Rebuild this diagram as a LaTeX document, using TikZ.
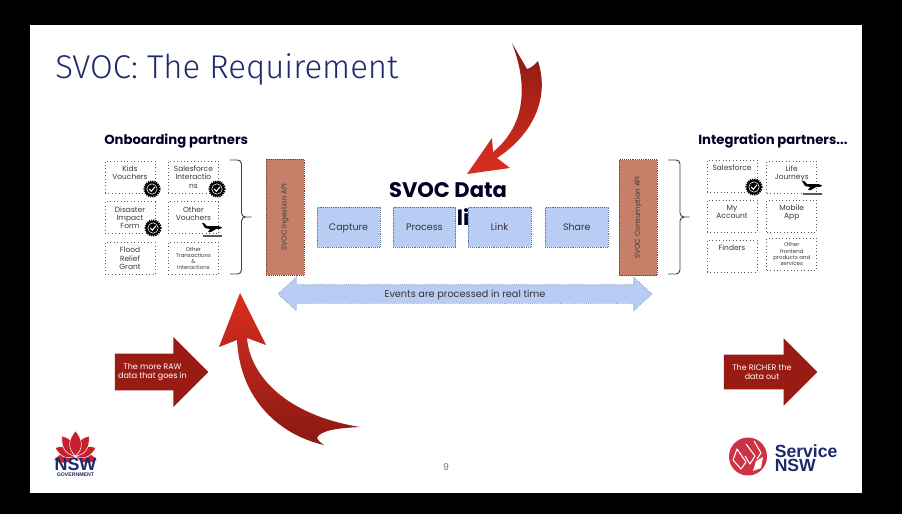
\documentclass[tikz,border=0pt]{standalone}
\usepackage{fontspec}
\setmainfont{Poppins}
\newfontfamily\titlefont{Fira Sans Light}
\newfontfamily\logofont{Liberation Sans}
\usetikzlibrary{positioning,calc,arrows.meta,shapes.arrows}
\definecolor{navy}{HTML}{1D2A6B}
\definecolor{ink}{HTML}{3A3A3A}
\definecolor{bluefill}{HTML}{B8CCF4}
\definecolor{blueedge}{HTML}{5F6F8E}
\definecolor{apifill}{HTML}{C6806A}
\definecolor{apiedge}{HTML}{7A3B2C}
\definecolor{darkred}{HTML}{981C14}
\definecolor{brightred}{HTML}{DA2F1F}
\definecolor{nswred}{HTML}{C8202F}
\definecolor{svcred}{HTML}{CE3345}
\newcommand{\boxfont}{\fontsize{5.6}{6.2}\selectfont}
\newcommand{\tinyfont}{\fontsize{4.1}{4.6}\selectfont}
\tikzset{
  badge/.pic={\fill[black](0,0) circle (7.4); \draw[black,line width=1.3pt,dash pattern=on .9pt off .7pt](0,0) circle (7.7);
    \draw[white,line width=.4pt](0,0) circle (5.2); \draw[white,line width=.8pt](-2.8,0)--(-.7,2.2)--(3,-2.2);},
  jetmark/.pic={\fill[black](-10,-4)--(-8,-4)--(-5,-1)--(6,-1)..controls (9,-.5) and (10,.5)..(10,1)..controls (9,2) and (7,2)..(4,2)--(4,2)--(-1,5)--(-4,5)--(-2,2)--(-7,1)--cycle;
    \draw[black!65,line width=.8pt](-9,9)--(10,9);},
  petal/.pic={\fill[nswred,draw=white,line width=.4pt](0,0)..controls (-7,-6) and (-6,-14)..(0,-21)..controls (6,-14) and (7,-6)..(0,0)--cycle;}
}
\begin{document}
\begin{tikzpicture}[x=.75pt,y=-.75pt,
    pb/.style={draw=black!65,dotted,line width=.55pt,minimum width=37.5pt,minimum height=24pt,inner sep=0pt,align=center,font=\boxfont,text=ink},
    bb/.style={draw=blueedge,densely dotted,fill=bluefill,minimum width=47pt,minimum height=30pt,inner sep=0pt,text height=6pt,text depth=1pt,font=\fontsize{7.1}{8}\selectfont,text=ink!90!black},
    api/.style={draw=apiedge,densely dotted,fill=apifill,rotate=90,minimum width=87pt,minimum height=28.5pt,inner sep=0pt,font=\fontsize{5.3}{6}\selectfont,text=ink},
    ra/.style={single arrow,fill=darkred,text=white,align=center,minimum width=49.5pt,minimum height=70pt,single arrow head extend=12.4pt,single arrow tip angle=90,inner ysep=7pt,inner xsep=0pt,font=\fontsize{6}{7}\selectfont},
    hd/.style={font=\fontsize{9.9}{12}\selectfont\bfseries,text=black!85!blue},
    br/.style={draw=black!75,line width=.7pt,rounded corners=3pt}]
  \useasboundingbox (0,0) rectangle (902,514);
  \fill[black] (0,0) rectangle (902,514);
  \fill[white] (30,25) rectangle (862,493);
  \node[anchor=west,font=\titlefont\fontsize{24.7}{28}\selectfont,text=navy,inner sep=0pt] (title) at (55,69) {SVOC: The Requirement};
  \node[hd,anchor=west,inner sep=0pt] (onb) at (104,141.5) {Onboarding partners};
  \node[hd,anchor=west,inner sep=0pt] (integ) at (698,141.5) {Integration partners...};

  \node[pb] (kids) at (130,177) {Kids\\Vouchers\\~};
  \node[pb,right=9.5pt of kids] (sfint) {Salesforce\\Interactio\\ns};
  \node[pb,below=6pt of kids] (dis) {Disaster\\Impact\\Form};
  \node[pb,right=9.5pt of dis] (othv) {Other\\Vouchers\\~};
  \node[pb,below=6pt of dis] (flood) {Flood\\Relief\\Grant};
  \node[pb,right=9.5pt of flood,font=\tinyfont] (otht) {Other\\Transactions\\\&\\Interactions};
  \coordinate (bl) at (230,160);
  \draw[br] (bl) -- ++(11.5,0) -- ++(0,57) -- ++(12.5,0) -- ++(-12.5,0) -- ++(0,57) -- ++(-11.5,0);
  \pic at (152,189) {badge}; \pic at (217,189) {badge}; \pic at (153,228) {badge};
  \pic at (212,227) {jetmark};

  \node[api] (ingest) at (285,217) {SVOC Ingestion API};
  \node[api] (consume) at (638,217.5) {SVOC Consumption API};

  \node[align=center,font=\fontsize{15.8}{20.8}\selectfont\bfseries,text=black!85!blue,anchor=north] (svoc) at (448,178) {SVOC Data\\\hspace*{8pt}Pipeline};
  \node[bb] (cap) at (348.5,227) {Capture};
  \node[bb,right=9.5pt of cap] (proc) {Process};
  \node[bb,right=9pt of proc] (link) {Link};
  \node[bb,right=10.5pt of link] (share) {Share};

  \node[double arrow,draw=blueedge,densely dotted,fill=bluefill,minimum width=24.75pt,minimum height=280.5pt,double arrow head extend=5.6pt,double arrow tip angle=85,inner ysep=3pt,inner xsep=0pt,font=\fontsize{7.3}{8}\selectfont,text=ink!90!black,text height=6pt,text depth=1.5pt] (events) at (465,294) {Events are processed in real time};

  \coordinate (bk) at (668,160);
  \draw[br] (bk) -- ++(12,0) -- ++(0,57) -- ++(12,0) -- ++(-12,0) -- ++(0,57) -- ++(-12,0);
  \node[pb] (sfc) at (732,176) {Salesforce\\~\\~};
  \node[pb,right=6.75pt of sfc,yshift=-.75pt] (life) {Life\\Journeys\\~};
  \node[pb,below=5.5pt of sfc] (acct) {My\\Account\\~};
  \node[pb,right=6.75pt of acct] (mob) {Mobile\\App\\~};
  \node[pb,below=5.5pt of acct] (find) {Finders\\~\\~};
  \node[pb,right=6.75pt of find,yshift=1.5pt,font=\tinyfont] (othp) {Other\\frontend\\products and\\services};
  \pic at (754,187) {badge}; \pic at (812,185) {jetmark};

  \node[ra] (rawin) at (152.5,372) {The more RAW\\data that goes in};
  \node[ra] (richer) at (762,372) {The RICHER the\\data out};

  \shade[top color=darkred!90!black,bottom color=brightred] (512,43)..controls (528,85) and (526,125)..(493,152)--(492,138)--(467,174)--(510,168)--(497,158)..controls (525,140) and (552,105)..(538,61)..controls (534,66) and (530,68)..(527,69)..controls (523,62) and (517,52)..(512,43)--cycle;
  \shade[top color=brightred,bottom color=darkred!90!black] (240,293)--(266,345)--(247,338)..controls (250,375) and (285,415)..(360,427)..controls (340,428) and (320,430)..(317,438)..controls (318,441) and (321,443)..(324,445)..controls (280,435) and (240,400)..(237,340)--(219,347)--cycle;

  \foreach \a/\l in {-100/1.05,100/1.05,-68/1.05,68/1.05,-34/1.15,34/1.15,0/1.2}
    \pic[rotate=\a,scale=\l] at (75.5,456) {petal};
  \node[font=\logofont\bfseries\fontsize{13.4}{14}\selectfont,text=navy,inner sep=0pt] (nsw) at (75.5,464) {NSW};
  \node[font=\logofont\bfseries\fontsize{3.9}{4}\selectfont,text=navy,inner sep=0pt,below=1.5pt of nsw] (gov) {GOVERNMENT};
  \node[font=\fontsize{7}{8}\selectfont,text=black!55] (pg) at (446,467) {9};

  \fill[svcred] (748,456.5) circle (19);
  \draw[white,line width=.8pt,line join=round] (737,449)--(746,462)--(741,469)--(733,460)--cycle (746,444)--(755,456)--(750,464)--(745,456) (754,441)--(761,453)--(757,459);
  \fill[white] (756,461)--(763,457)--(761,468)--(753,471)--cycle;
  \node[font=\logofont\bfseries\fontsize{13.2}{10.6}\selectfont,text=navy,align=left,anchor=west,inner sep=0pt] (svc) at (774.5,458) {Service\\NSW};
\end{tikzpicture}
\end{document}
